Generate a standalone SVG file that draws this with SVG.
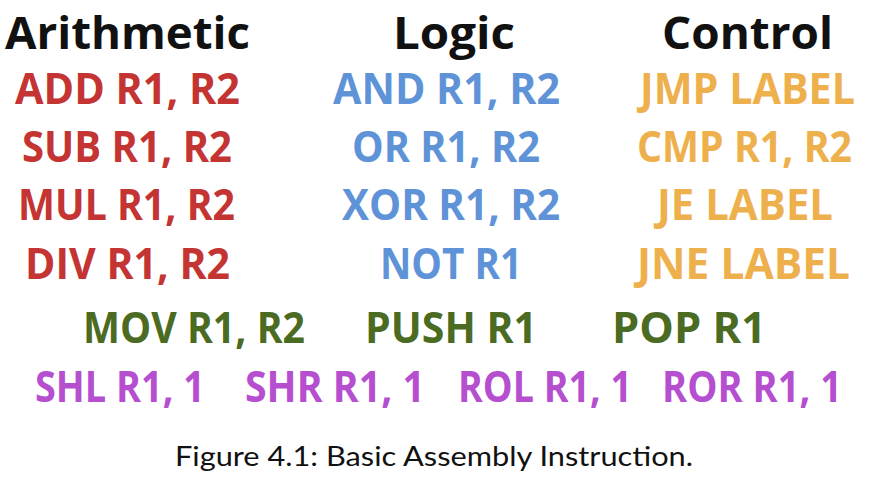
<svg xmlns="http://www.w3.org/2000/svg" width="878" height="490" viewBox="0 0 878 490">
<style>
text{font-family:"Open Sans","DejaVu Sans",sans-serif;font-weight:700;}
.h{font-size:45px;fill:#111;}
.i{font-size:43px;}
.r{fill:#c33432;}.b{fill:#5f93d8;}.o{fill:#eeb04c;}.g{fill:#4b6b22;}.p{fill:#b54fd0;}
.cap{font-family:Lato,"Liberation Sans",sans-serif;font-weight:400;font-size:27px;fill:#111;}
</style>
<rect width="878" height="490" fill="#fff"/>
<g id="headers">
<text class="h" x="5" y="49" textLength="245" lengthAdjust="spacingAndGlyphs">Arithmetic</text>
<text class="h" x="393" y="49" textLength="122" lengthAdjust="spacingAndGlyphs">Logic</text>
<text class="h" x="662" y="49" textLength="171" lengthAdjust="spacingAndGlyphs">Control</text>
</g>
<g id="arithmetic">
<text class="i r" x="15" y="104" textLength="225" lengthAdjust="spacingAndGlyphs">ADD R1, R2</text>
<text class="i r" x="22" y="162" textLength="210" lengthAdjust="spacingAndGlyphs">SUB R1, R2</text>
<text class="i r" x="18" y="220" textLength="217" lengthAdjust="spacingAndGlyphs">MUL R1, R2</text>
<text class="i r" x="25" y="279" textLength="205" lengthAdjust="spacingAndGlyphs">DIV R1, R2</text>
</g>
<g id="logic">
<text class="i b" x="333" y="104" textLength="227" lengthAdjust="spacingAndGlyphs">AND R1, R2</text>
<text class="i b" x="352" y="162" textLength="188" lengthAdjust="spacingAndGlyphs">OR R1, R2</text>
<text class="i b" x="342" y="220" textLength="218" lengthAdjust="spacingAndGlyphs">XOR R1, R2</text>
<text class="i b" x="380" y="279" textLength="142" lengthAdjust="spacingAndGlyphs">NOT R1</text>
</g>
<g id="control">
<text class="i o" x="640" y="104" textLength="215" lengthAdjust="spacingAndGlyphs">JMP LABEL</text>
<text class="i o" x="637" y="162" textLength="215" lengthAdjust="spacingAndGlyphs">CMP R1, R2</text>
<text class="i o" x="657" y="220" textLength="176" lengthAdjust="spacingAndGlyphs">JE LABEL</text>
<text class="i o" x="637" y="279" textLength="213" lengthAdjust="spacingAndGlyphs">JNE LABEL</text>
</g>
<g id="data">
<text class="i g" x="83" y="343" textLength="222" lengthAdjust="spacingAndGlyphs">MOV R1, R2</text>
<text class="i g" x="365" y="343" textLength="172" lengthAdjust="spacingAndGlyphs">PUSH R1</text>
<text class="i g" x="612" y="343" textLength="154" lengthAdjust="spacingAndGlyphs">POP R1</text>
</g>
<g id="shift">
<text class="i p" x="35" y="402" textLength="170" lengthAdjust="spacingAndGlyphs">SHL R1, 1</text>
<text class="i p" x="245" y="402" textLength="180" lengthAdjust="spacingAndGlyphs">SHR R1, 1</text>
<text class="i p" x="458" y="402" textLength="174" lengthAdjust="spacingAndGlyphs">ROL R1, 1</text>
<text class="i p" x="662" y="402" textLength="180" lengthAdjust="spacingAndGlyphs">ROR R1, 1</text>
</g>
<g id="connectors"></g>
<text class="cap" x="175" y="466" textLength="518" lengthAdjust="spacingAndGlyphs">Figure 4.1: Basic Assembly Instruction.</text>
</svg>
